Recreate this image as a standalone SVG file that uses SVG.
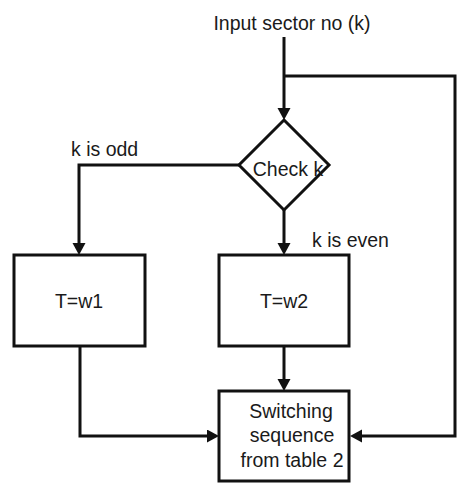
<svg xmlns="http://www.w3.org/2000/svg" width="474" height="499" viewBox="0 0 474 499">
<style>
.n{fill:#fff;stroke:#111;stroke-width:3}
.c{fill:none;stroke:#111;stroke-width:3}
text{font-family:"Liberation Sans",Arial,sans-serif;font-size:19.5px;fill:#1a1a1a}
.m{text-anchor:middle}
</style>
<defs>
<marker id="a" markerUnits="userSpaceOnUse" markerWidth="14" markerHeight="14" refX="8" refY="6.5" orient="auto">
<path d="M0,0 L12,6.5 L0,13 z" fill="#111"/>
</marker>
</defs>
<rect width="474" height="499" fill="#fff"/>
<g id="connectors">
<path class="c" d="M284,37 V116" marker-end="url(#a)"/>
<path class="c" d="M284,76 H455 V436 H354" marker-end="url(#a)"/>
<path class="c" d="M240,165 H79 V251" marker-end="url(#a)"/>
<path class="c" d="M284,210 V251" marker-end="url(#a)"/>
<path class="c" d="M284,346 V387" marker-end="url(#a)"/>
<path class="c" d="M80,346 V436 H215" marker-end="url(#a)"/>
</g>
<g id="input"><text class="m" x="292" y="30">Input sector no (k)</text></g>
<g id="check"><path class="n" d="M284,120 L329,165 L284,210 L239,165 z"/><text class="m" x="288" y="176">Check k</text></g>
<g id="odd"><text x="71" y="156">k is odd</text></g>
<g id="even"><text x="312" y="247">k is even</text></g>
<g id="w1"><rect class="n" x="14" y="255" width="131" height="91"/><text class="m" x="79" y="308">T=w1</text></g>
<g id="w2"><rect class="n" x="219" y="255" width="130" height="91"/><text class="m" x="284" y="308">T=w2</text></g>
<g id="seq"><rect class="n" x="219" y="391" width="130" height="90"/>
<text class="m" x="291" y="418">Switching</text>
<text class="m" x="292" y="442">sequence</text>
<text class="m" x="292" y="467">from table 2</text></g>
</svg>
